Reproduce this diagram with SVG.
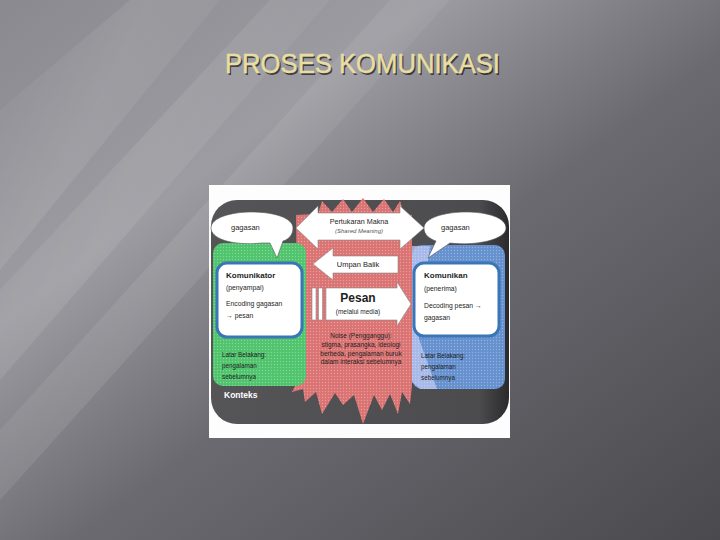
<svg xmlns="http://www.w3.org/2000/svg" width="720" height="540" viewBox="0 0 720 540">
<defs>
<linearGradient id="bg" x1="0" y1="0" x2="1" y2="1">
<stop offset="0" stop-color="#8a898f"/>
<stop offset="0.3" stop-color="#9d9ca2"/>
<stop offset="0.55" stop-color="#6b6a70"/>
<stop offset="1" stop-color="#4a494e"/>
</linearGradient>
<linearGradient id="streak" x1="0" y1="0" x2="1" y2="0.6">
<stop offset="0" stop-color="#ffffff" stop-opacity="0"/>
<stop offset="0.5" stop-color="#ffffff" stop-opacity="0.09"/>
<stop offset="1" stop-color="#ffffff" stop-opacity="0"/>
</linearGradient>
<linearGradient id="darkbox" x1="0" y1="0" x2="1" y2="0">
<stop offset="0" stop-color="#555558"/>
<stop offset="0.9" stop-color="#4c4c4f"/>
<stop offset="1" stop-color="#2a2a2c"/>
</linearGradient>
<pattern id="dots" width="3" height="3" patternUnits="userSpaceOnUse">
<circle cx="1.5" cy="1.5" r="0.7" fill="#ffffff" fill-opacity="0.3"/>
</pattern>
<style>
.t{font-family:"Liberation Sans",Arial,sans-serif;fill:#1e1e1e}
.b{font-weight:bold}
.inner{fill:#ffffff;stroke:#3a76b6;stroke-width:3}
.bub{fill:#ffffff;stroke:#555;stroke-width:0.6}
.arr{fill:#ffffff;stroke:#8a8a8a;stroke-width:0.6}
.ttl{font-family:"Liberation Sans Narrow","Liberation Sans",Arial,sans-serif;font-size:27px}
</style>
</defs>

<rect width="720" height="540" fill="url(#bg)"/>
<polygon points="0,110 130,0 220,0 0,270" fill="url(#streak)"/>
<polygon points="0,290 270,0 330,0 0,380" fill="url(#streak)"/>
<polygon points="0,430 390,0 450,0 0,500" fill="url(#streak)"/>

<g id="title">
<text class="ttl" x="226.5" y="74.5" textLength="275" lengthAdjust="spacingAndGlyphs" fill="#000" fill-opacity="0.6">PROSES KOMUNIKASI</text>
<text class="ttl" x="225" y="73" textLength="275" lengthAdjust="spacingAndGlyphs" fill="#e8dea2" stroke="#e8dea2" stroke-width="0.5">PROSES KOMUNIKASI</text>
</g>

<g id="frame">
<rect x="209" y="185" width="301" height="253" fill="#fdfdfd"/>
<rect x="211" y="200" width="298" height="224" rx="26" fill="url(#darkbox)"/>
</g>

<g id="noise">
<polygon points="296,215 318,214 322,201 332,212 343,199 352,212 363,198 373,212 384,199 393,212 400,201 404,214 412,215 412,386 410,404 402,392 398,414 390,394 382,410 374,395 363,424 354,395 343,405 335,393 322,414 316,392 305,402 303,389 292,392 298,380" fill="#db7373"/>
<polygon points="296,215 318,214 322,201 332,212 343,199 352,212 363,198 373,212 384,199 393,212 400,201 404,214 412,215 412,386 410,404 402,392 398,414 390,394 382,410 374,395 363,424 354,395 343,405 335,393 322,414 316,392 305,402 303,389 292,392 298,380" fill="url(#dots)"/>
<text class="t" font-size="6.5" text-anchor="middle"><tspan x="361" y="338">Noise (Pengganggu):</tspan><tspan x="361" y="347">stigma, prasangka, ideologi</tspan><tspan x="361" y="355.5">berbeda, pengalaman buruk</tspan><tspan x="361" y="364">dalam interaksi sebelumnya</tspan></text>
</g>

<g id="komunikator">
<rect x="213" y="243" width="93" height="143" rx="10" fill="#4fc46d"/>
<rect x="213" y="243" width="93" height="143" rx="10" fill="url(#dots)"/>
<rect class="inner" x="217" y="263" width="85" height="74" rx="10"/>
<text class="t b" x="226" y="278" font-size="8">Komunikator</text>
<text class="t" x="226" y="290" font-size="6.8">(penyampai)</text>
<text class="t" x="226" y="306" font-size="6.8">Encoding gagasan</text>
<text class="t" x="226" y="318" font-size="6.8">→ pesan</text>
<text class="t" font-size="6.3"><tspan x="222" y="357">Latar Belakang:</tspan><tspan x="222" y="368">pengalaman</tspan><tspan x="222" y="379">sebelumnya</tspan></text>
</g>

<g id="komunikan">
<rect x="412" y="245" width="93" height="144" rx="10" fill="#6591cf"/>
<polygon points="412,246 430,246 418,336 437,389 420,389 412,382" fill="#b8c3ef" fill-opacity="0.8"/>
<rect x="412" y="245" width="93" height="144" rx="10" fill="url(#dots)"/>
<rect class="inner" x="414" y="263" width="85" height="73" rx="10"/>
<text class="t b" x="424" y="278" font-size="8">Komunikan</text>
<text class="t" x="424" y="291" font-size="6.8">(penerima)</text>
<text class="t" x="424" y="308" font-size="6.8">Decoding pesan →</text>
<text class="t" x="424" y="320" font-size="6.8">gagasan</text>
<text class="t" font-size="6.3"><tspan x="421" y="358">Latar Belakang:</tspan><tspan x="421" y="369">pengalaman</tspan><tspan x="421" y="380">sebelumnya</tspan></text>
</g>

<g id="konteks">
<text class="t b" x="224" y="398" font-size="8.5" style="fill:#ffffff">Konteks</text>
</g>

<g id="gagasan-left">
<path class="bub" d="M262,243 C230,246 211,238 211,228 C211,218 230,212 252,212 C274,212 293,218 293,228 C293,236 287,240 283,241 L277,258 L270,243 Z"/>
<text class="t" x="231" y="230" font-size="7.5">gagasan</text>
</g>

<g id="gagasan-right">
<path class="bub" d="M450,243 C475,246 506,240 506,228 C506,218 488,212 466,212 C444,212 424,218 424,228 C424,235 430,239 436,241 L428,258 Z"/>
<text class="t" x="441" y="230" font-size="7.5">gagasan</text>
</g>

<g id="connectors">
<g id="pertukaran-makna">
<path class="arr" d="M296,228 L318,206 L318,213 L400,213 L400,206 L424,228 L400,249 L400,240 L318,240 L318,249 Z"/>
<text class="t" x="359" y="224" font-size="7.2" text-anchor="middle">Pertukaran Makna</text>
<text class="t" x="359" y="233" font-size="6" font-style="italic" text-anchor="middle" style="fill:#555">(Shared Meaning)</text>
</g>
<g id="umpan-balik">
<path class="arr" d="M313,264 L333,248 L333,256 L398,256 L398,273 L333,273 L333,280 Z"/>
<text class="t" x="358" y="267" font-size="7.5" text-anchor="middle">Umpan Balik</text>
</g>
<g id="pesan">
<rect class="arr" x="312" y="288" width="4" height="32"/>
<rect class="arr" x="318.5" y="288" width="4" height="32"/>
<path class="arr" d="M326,288 L397,288 L397,282 L411,304 L397,326 L397,320 L326,320 Z"/>
<text class="t b" x="358" y="302" font-size="12" text-anchor="middle">Pesan</text>
<text class="t" x="358" y="314" font-size="6.5" text-anchor="middle">(melalui media)</text>
</g>
</g>
</svg>
